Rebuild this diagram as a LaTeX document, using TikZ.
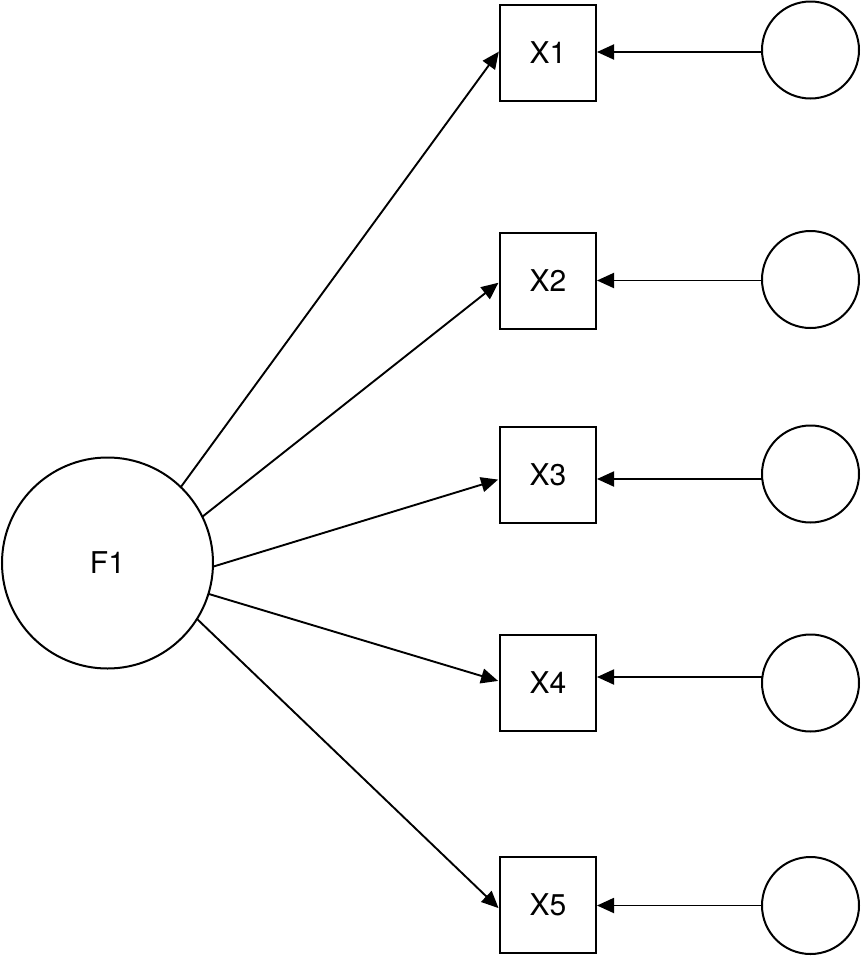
\documentclass[tikz,border=0pt]{standalone}
\usepackage{fontspec}
\setmainfont{TeX Gyre Heros}
\usetikzlibrary{arrows.meta}
\begin{document}
\begin{tikzpicture}[x=1pt,y=-1pt,
  every node/.style={font=\fontsize{30}{32}\selectfont, outer sep=0pt, inner sep=0pt, line width=2pt},
  obsbox/.style={draw, minimum width=96pt, minimum height=96pt},
  factor/.style={draw, circle, minimum size=211pt},
  errc/.style={draw, circle, minimum size=97pt},
  conn/.style={line width=1.9pt, -{Triangle[length=17pt,width=15pt]}, shorten >=2pt}]
\useasboundingbox (0,0) rectangle (860,956);
\node[factor] (F1) at (107.5,563) {F1};
\node[obsbox] (X1) at (548,53) {X1};
\node[obsbox] (X2) at (548,280.5) {X2};
\node[obsbox] (X3) at (548,475) {X3};
\node[obsbox] (X4) at (548,682.5) {X4};
\node[obsbox] (X5) at (548,904.5) {X5};
\node[errc] (E1) at (810.5,50) {};
\node[errc] (E2) at (810.5,279.5) {};
\node[errc] (E3) at (810.5,474) {};
\node[errc] (E4) at (810.5,683) {};
\node[errc] (E5) at (810.5,905.5) {};
\draw[conn] (F1.46.7) -- ([yshift=3pt]X1.west);
\draw[conn] (F1.26) -- ([yshift=-1pt]X2.west);
\draw[conn] (F1.-2) -- ([yshift=-4pt]X3.west);
\draw[conn] (F1.-17.3) -- ([yshift=1pt]X4.west);
\draw[conn] (F1.-32.7) -- ([yshift=-5pt]X5.west);
\draw[conn, shorten >=1pt] ([yshift=-2pt]E1.west) -- ([yshift=-2pt]E1.west -| X1.east);
\draw[conn, shorten >=1pt] ([yshift=-1pt]E2.west) -- ([yshift=-1pt]E2.west -| X2.east);
\draw[conn, shorten >=1pt] ([yshift=-5pt]E3.west) -- ([yshift=-5pt]E3.west -| X3.east);
\draw[conn, shorten >=1pt] ([yshift=6pt]E4.west) -- ([yshift=6pt]E4.west -| X4.east);
\draw[conn, shorten >=1pt] (E5.west) -- (E5.west -| X5.east);
\end{tikzpicture}
\end{document}
